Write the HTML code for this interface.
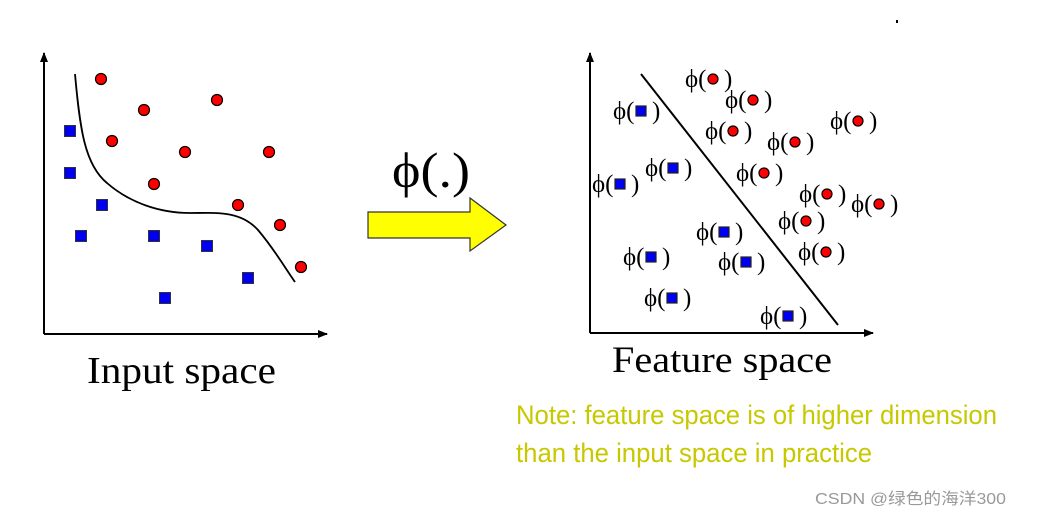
<!DOCTYPE html>
<html><head><meta charset="utf-8"><style>html,body{margin:0;padding:0;background:#fff}svg{display:block}</style></head>
<body>
<svg width="1038" height="516" viewBox="0 0 1038 516" xmlns="http://www.w3.org/2000/svg">
<defs>
<marker id="ah" markerWidth="10" markerHeight="8" refX="9" refY="4" orient="auto" markerUnits="userSpaceOnUse"><path d="M0,0 L10,4 L0,8 z" fill="#000"/></marker>
</defs>
<rect x="896" y="20" width="2" height="3" fill="#000"/>
<line x1="44" y1="334" x2="44" y2="53" stroke="#000" stroke-width="2" marker-end="url(#ah)"/>
<line x1="44" y1="334" x2="327" y2="334" stroke="#000" stroke-width="2" marker-end="url(#ah)"/>
<path d="M75,74 C80,130 85,165 107,183 C130,203 160,213 190,213 C215,213 240,210 258,230 C275,250 285,268 295,282" fill="none" stroke="#000" stroke-width="1.8"/>
<g fill="#f00" stroke="#000" stroke-width="1.2">
<circle cx="101" cy="79" r="5.5"/><circle cx="144" cy="110" r="5.5"/><circle cx="217" cy="100" r="5.5"/><circle cx="112" cy="141" r="5.5"/><circle cx="185" cy="152" r="5.5"/><circle cx="269" cy="152" r="5.5"/><circle cx="154" cy="184" r="5.5"/><circle cx="238" cy="205" r="5.5"/><circle cx="280" cy="225" r="5.5"/><circle cx="301" cy="267" r="5.5"/>
</g>
<g fill="#0000f0" stroke="#333" stroke-width="1">
<rect x="64.5" y="125.5" width="11" height="11"/><rect x="64.5" y="167.5" width="11" height="11"/><rect x="96.5" y="199.5" width="11" height="11"/><rect x="75.5" y="230.5" width="11" height="11"/><rect x="148.5" y="230.5" width="11" height="11"/><rect x="201.5" y="240.5" width="11" height="11"/><rect x="242.5" y="272.5" width="11" height="11"/><rect x="159.5" y="292.5" width="11" height="11"/>
</g>
<text x="87" y="383" font-family="Liberation Serif, serif" font-size="38" textLength="189" lengthAdjust="spacingAndGlyphs">Input space</text>
<text x="392" y="187" font-family="Liberation Serif, serif" font-size="50" textLength="78" lengthAdjust="spacingAndGlyphs">ϕ(.)</text>
<path d="M368,212 L470,212 L470,198 L506,225 L470,251 L470,238 L368,238 z" fill="#ff0" stroke="#333" stroke-width="1.2"/>
<line x1="590" y1="333" x2="590" y2="53" stroke="#000" stroke-width="2" marker-end="url(#ah)"/>
<line x1="590" y1="333" x2="873" y2="333" stroke="#000" stroke-width="2" marker-end="url(#ah)"/>
<line x1="641" y1="74" x2="838" y2="325" stroke="#000" stroke-width="2"/>
<g font-family="Liberation Serif, serif" font-size="25" fill="#000">
<text x="685" y="87">ϕ(</text><text x="724" y="87">)</text>
<text x="725" y="108">ϕ(</text><text x="764" y="108">)</text>
<text x="705" y="139">ϕ(</text><text x="744" y="139">)</text>
<text x="767" y="150">ϕ(</text><text x="806" y="150">)</text>
<text x="830" y="129">ϕ(</text><text x="869" y="129">)</text>
<text x="736" y="181">ϕ(</text><text x="775" y="181">)</text>
<text x="799" y="202">ϕ(</text><text x="838" y="202">)</text>
<text x="851" y="212">ϕ(</text><text x="890" y="212">)</text>
<text x="778" y="229">ϕ(</text><text x="817" y="229">)</text>
<text x="798" y="260">ϕ(</text><text x="837" y="260">)</text>
<text x="613" y="119">ϕ(</text><text x="652" y="119">)</text>
<text x="645" y="176">ϕ(</text><text x="684" y="176">)</text>
<text x="592" y="192">ϕ(</text><text x="631" y="192">)</text>
<text x="696" y="240">ϕ(</text><text x="735" y="240">)</text>
<text x="623" y="265">ϕ(</text><text x="662" y="265">)</text>
<text x="718" y="270">ϕ(</text><text x="757" y="270">)</text>
<text x="644" y="306">ϕ(</text><text x="683" y="306">)</text>
<text x="760" y="324">ϕ(</text><text x="799" y="324">)</text>
</g>
<g fill="#f00" stroke="#000" stroke-width="1.2">
<circle cx="713" cy="79" r="5"/><circle cx="753" cy="100" r="5"/><circle cx="733" cy="131" r="5"/><circle cx="795" cy="142" r="5"/><circle cx="858" cy="121" r="5"/><circle cx="764" cy="173" r="5"/><circle cx="827" cy="194" r="5"/><circle cx="879" cy="204" r="5"/><circle cx="806" cy="221" r="5"/><circle cx="826" cy="252" r="5"/>
</g>
<g fill="#0000f0" stroke="#222" stroke-width="1.2">
<rect x="636" y="106" width="10" height="10"/><rect x="668" y="163" width="10" height="10"/><rect x="615" y="179" width="10" height="10"/><rect x="719" y="227" width="10" height="10"/><rect x="646" y="252" width="10" height="10"/><rect x="741" y="257" width="10" height="10"/><rect x="667" y="293" width="10" height="10"/><rect x="783" y="311" width="10" height="10"/>
</g>
<text x="612" y="372" font-family="Liberation Serif, serif" font-size="37" textLength="220" lengthAdjust="spacingAndGlyphs">Feature space</text>
<g font-family="Liberation Sans, sans-serif" font-size="27" fill="#c8c800">
<text x="516" y="424" textLength="481" lengthAdjust="spacingAndGlyphs">Note: feature space is of higher dimension</text>
<text x="516" y="462" textLength="356" lengthAdjust="spacingAndGlyphs">than the input space in practice</text>
</g>
<text x="815" y="504" font-family="Liberation Sans, 'Noto Sans CJK SC', sans-serif" font-size="16" fill="#999" textLength="191" lengthAdjust="spacingAndGlyphs">CSDN @绿色的海洋300</text>
</svg>
</body></html>
